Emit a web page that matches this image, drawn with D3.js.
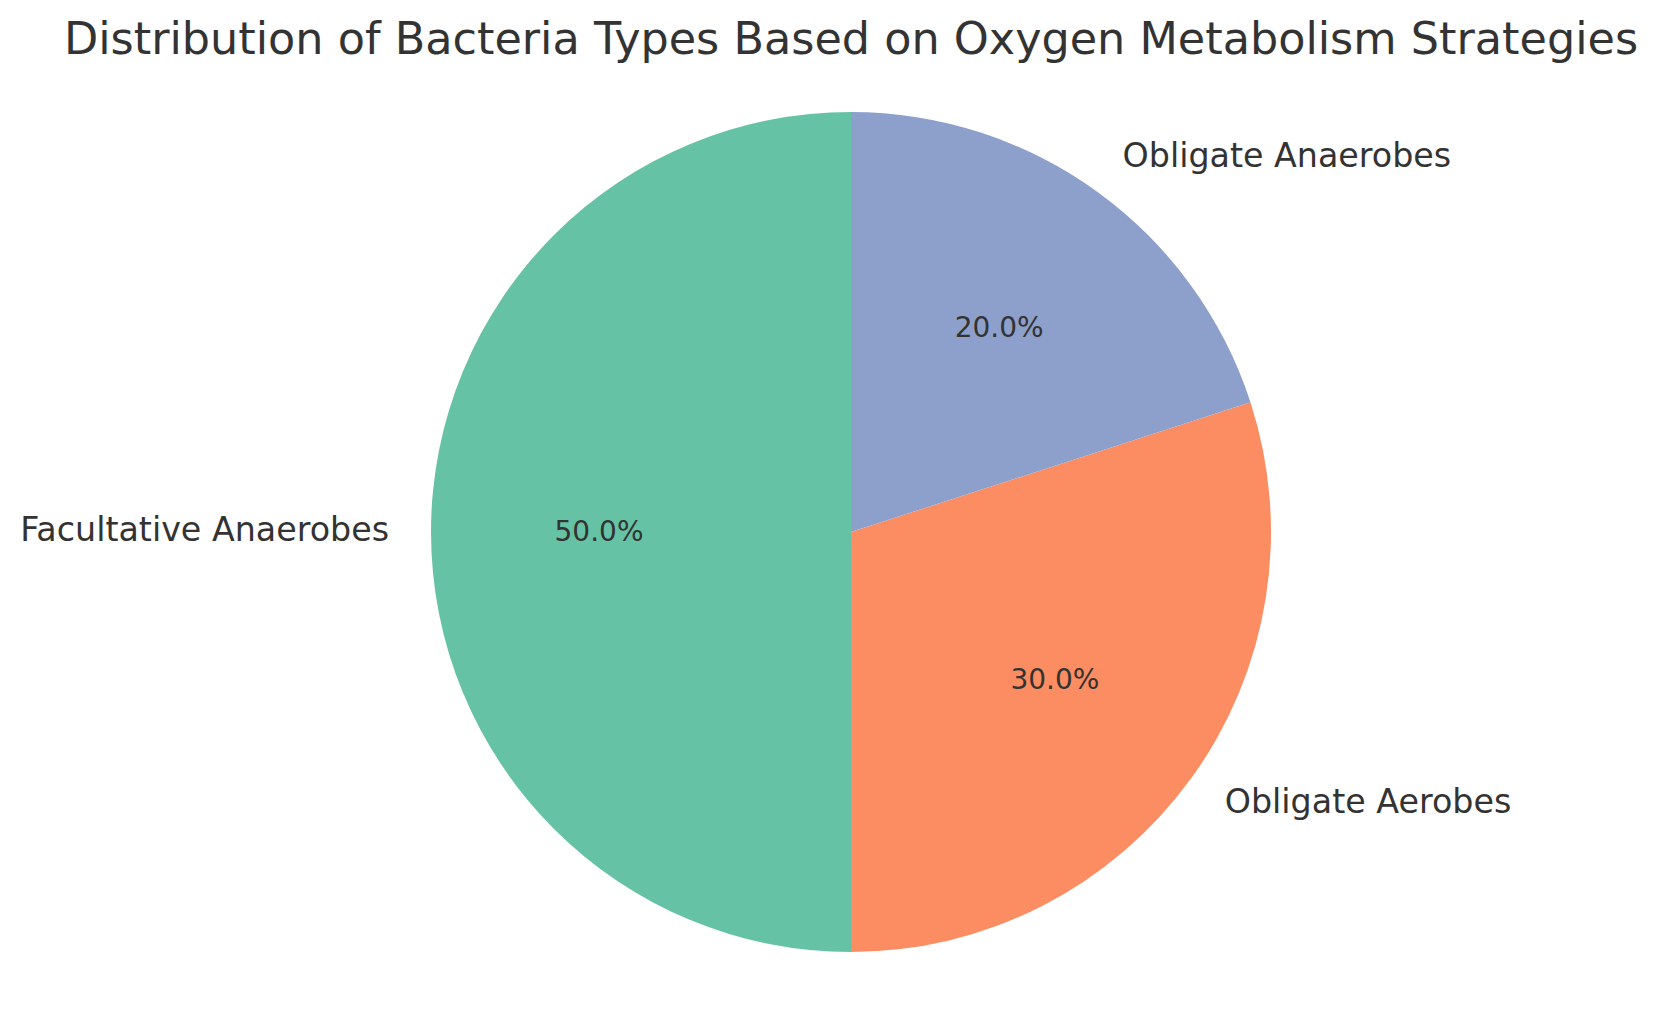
<!DOCTYPE html>
<html>
<head>
<meta charset="utf-8">
<script src="https://cdn.jsdelivr.net/npm/d3@7"></script>
<style>
  html, body { margin: 0; padding: 0; background: #fff; }
  svg text { font-family: "DejaVu Sans", sans-serif; fill: #333333; }
</style>
</head>
<body>
<svg id="chart"></svg>
<script>
'use strict'

// chart data
const categories = ['Facultative Anaerobes', 'Obligate Aerobes', 'Obligate Anaerobes'];
const shares = [50, 30, 20];
const colors = ['#66c2a5', '#fc8d62', '#8da0cb'];
const title = 'Distribution of Bacteria Types Based on Oxygen Metabolism Strategies';

const width = 1658,
	height = 1014,
	cx = 851, // pie centre
	cy = 532,
	radius = 420;

let svg = d3.select('#chart')
	.attr('width', width)
	.attr('height', height);

svg.append('text')
	.attr('x', cx)
	.attr('y', 54)
	.attr('text-anchor', 'middle')
	.style('font-size', '44.5px')
	.text(title);

// counterclockwise from 12 o'clock, like matplotlib startangle=90
let pie = d3.pie()
	.sort(null)
	.startAngle(0)
	.endAngle(-2 * Math.PI);

let arc = d3.arc()
	.innerRadius(0)
	.outerRadius(radius);

let slices = pie(shares).map((d, i) => ({ ...d, name: categories[i], color: colors[i] }));

let g = svg.append('g')
	.attr('transform', `translate(${cx},${cy})`);

g.selectAll('path.slice')
	.data(slices)
	.enter().append('path')
	.attr('class', 'slice')
	.attr('d', arc)
	.attr('fill', d => d.color);

let total = d3.sum(shares);
let mid = d => (d.startAngle + d.endAngle) / 2;

// category labels at 1.1 * radius
g.selectAll('text.label')
	.data(slices)
	.enter().append('text')
	.attr('class', 'label')
	.attr('x', d => 1.1 * radius * Math.sin(mid(d)))
	.attr('y', d => -1.1 * radius * Math.cos(mid(d)))
	.attr('dy', 9)
	.attr('text-anchor', d => Math.sin(mid(d)) < 0 ? 'end' : 'start')
	.style('font-size', '33.3px')
	.text(d => d.name);

// percentages at 0.6 * radius
g.selectAll('text.pct')
	.data(slices)
	.enter().append('text')
	.attr('class', 'pct')
	.attr('x', d => 0.6 * radius * Math.sin(mid(d)))
	.attr('y', d => -0.6 * radius * Math.cos(mid(d)))
	.attr('dy', 9)
	.attr('text-anchor', 'middle')
	.style('font-size', '28px')
	.text(d => (100 * d.value / total).toFixed(1) + '%');
</script>
</body>
</html>
